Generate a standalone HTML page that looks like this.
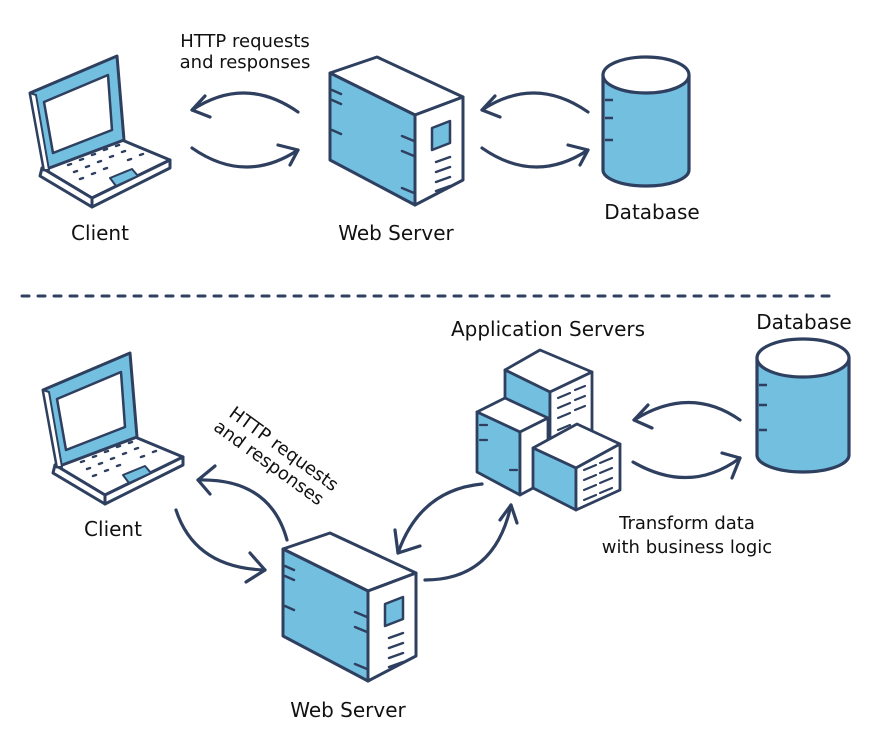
<!DOCTYPE html>
<html><head><meta charset="utf-8"><style>
html,body{margin:0;padding:0;background:#fff;}
svg{display:block;}
text{font-family:"DejaVu Sans","Liberation Sans",sans-serif;fill:#111;}
</style></head><body>
<svg width="875" height="732" viewBox="0 0 875 732" xmlns="http://www.w3.org/2000/svg">
<defs>
<g id="laptop" stroke="#2e3f5f" stroke-width="3" stroke-linejoin="round" stroke-linecap="round">
  <polygon points="42,168 122,140 170,160 92,198" fill="#fff"/>
  <polygon points="92,198 170,160 170,168 92,207" fill="#fff"/>
  <polygon points="42,168 92,198 92,207 40,176" fill="#fff"/>
  <polygon points="30,93 117,56 124,140 44,170" fill="#72bfe0"/>
  <polygon points="44,102 108,75 112,130 53,153" fill="#fff" stroke-width="2.5"/>
  <polygon points="30,93 36,95 49,170 44,170" fill="#fff" stroke-width="2"/>
  <polygon points="110,178 132,169 138,176 116,186" fill="#72bfe0" stroke-width="2"/>
  <g stroke-width="2.5">
    <path d="M68,165l3,-1 M80,160l3,-1 M92,155l3,-1 M104,150l3,-1 M116,146l3,-1"/>
    <path d="M74,172l3,-1 M86,167l3,-1 M98,162l3,-1 M110,157l3,-1 M122,152l3,-1"/>
    <path d="M80,179l3,-1 M92,174l3,-1 M104,169l3,-1 M128,160l3,-1 M140,155l3,-1"/>
  </g>
</g>
<g id="server" stroke="#2e3f5f" stroke-width="3" stroke-linejoin="round" stroke-linecap="round">
  <polygon points="330,73 377,57 463,97 415,115" fill="#fff"/>
  <polygon points="330,73 415,115 415,205 330,160" fill="#72bfe0"/>
  <polygon points="415,115 463,97 463,180 415,205" fill="#fff"/>
  <polygon points="432,128 450,121 450,143 432,150" fill="#72bfe0" stroke-width="2.5"/>
  <path d="M436,162l14,-5 M436,172l14,-5 M436,182l14,-5 M436,191l14,-5" stroke-width="2.5"/>
  <path d="M332,90l9,4 M332,100l9,4 M332,130l9,4 M402,136l12,5 M402,151l12,5 M402,188l12,5" stroke-width="2.5"/>
</g>
<marker id="ah" viewBox="0 0 12 12" refX="9" refY="6" markerWidth="5" markerHeight="5" orient="auto" markerUnits="userSpaceOnUse">
</marker>
</defs>

<g fill="none" stroke="#2e3f5f" stroke-width="3.2" stroke-linecap="round" stroke-linejoin="round">
  <!-- top arrows -->
  <path d="M298,112 Q245,75 192,110"/><path d="M205,96 L192,110 L210,117"/>
  <path d="M192,148 Q245,185 298,150"/><path d="M278,145 L298,150 L290,165"/>
  <path d="M588,112 Q535,75 482,110"/><path d="M495,96 L482,110 L500,117"/>
  <path d="M482,148 Q535,185 588,150"/><path d="M568,145 L588,150 L580,165"/>
  <!-- bottom arrows -->
  <path d="M287,540 Q270,478 198,480"/><path d="M215,466 L198,480 L210,494"/>
  <path d="M176,510 Q195,568 265,570"/><path d="M250,553 L265,570 L246,582"/>
  <path d="M482,484 Q420,490 398,553"/><path d="M395,530 L398,553 L420,546"/>
  <path d="M425,580 Q495,580 511,505"/><path d="M500,520 L511,505 L517,523"/>
  <path d="M740,420 Q690,385 634,420"/><path d="M648,405 L634,420 L652,428"/>
  <path d="M633,462 Q690,495 740,458"/><path d="M722,453 L740,458 L732,478"/>
  <!-- dashed line -->
  <path d="M22,296 L835,296" stroke-dasharray="7,9" stroke-width="3"/>
</g>

<use href="#laptop"/>
<use href="#laptop" transform="translate(13,297)"/>
<use href="#server"/>
<use href="#server" transform="translate(-47,476)"/>

<!-- databases -->
<g stroke="#2e3f5f" stroke-width="3.2">
  <path d="M603,75 L603,170 A43,16 0 0 0 689,170 L689,75" fill="#72bfe0"/>
  <ellipse cx="646" cy="75" rx="43" ry="18" fill="#fff"/>
  <path d="M605,100h8 M605,118h8 M605,140h8" stroke-width="2.5"/>
  <path d="M757,358 L757,455 A46,17 0 0 0 849,455 L849,358" fill="#72bfe0"/>
  <ellipse cx="803" cy="358" rx="46" ry="19" fill="#fff"/>
  <path d="M759,385h8 M759,405h8 M759,430h8" stroke-width="2.5"/>
</g>

<!-- app servers cubes -->
<g stroke="#2e3f5f" stroke-width="2.8" stroke-linejoin="round" stroke-linecap="round">
  <g>
    <polygon points="505,370 540,350 592,372 550,392" fill="#fff"/>
    <polygon points="505,370 550,392 550,452 505,430" fill="#72bfe0"/>
    <polygon points="550,392 592,372 592,430 550,452" fill="#fff"/>
    <path d="M558,398l12,-5 M575,390l10,-4 M558,408l12,-5 M575,400l10,-4 M558,418l12,-5 M575,410l10,-4 M558,430l12,-5" stroke-width="2.2"/>
  </g>
  <g>
    <polygon points="477,412 505,398 548,418 520,432" fill="#fff"/>
    <polygon points="477,412 520,432 520,495 477,472" fill="#72bfe0"/>
    <polygon points="520,432 548,418 548,480 520,495" fill="#fff"/>
    <path d="M480,425h7 M480,440h7 M510,470h7" stroke-width="2.2"/>
  </g>
  <g>
    <polygon points="533,448 577,424 620,444 576,468" fill="#fff"/>
    <polygon points="533,448 576,468 576,510 533,488" fill="#72bfe0"/>
    <polygon points="576,468 620,444 620,490 576,510" fill="#fff"/>
    <path d="M584,470l12,-5 M600,463l12,-5 M584,480l12,-5 M600,473l12,-5 M584,490l12,-5 M600,483l12,-5 M584,500l12,-5 M600,493l12,-5" stroke-width="2.2"/>
  </g>
</g>

<!-- labels -->
<g font-size="18">
  <text x="245" y="47" text-anchor="middle">HTTP requests</text>
  <text x="245" y="68" text-anchor="middle">and responses</text>
  <text x="100" y="240" text-anchor="middle" font-size="20">Client</text>
  <text x="396" y="240" text-anchor="middle" font-size="20">Web Server</text>
  <text x="652" y="219" text-anchor="middle" font-size="20">Database</text>
  <text x="548" y="336" text-anchor="middle" font-size="20">Application Servers</text>
  <text x="804" y="329" text-anchor="middle" font-size="20">Database</text>
  <text x="113" y="536" text-anchor="middle" font-size="20">Client</text>
  <text x="348" y="717" text-anchor="middle" font-size="20">Web Server</text>
  <text x="687" y="529" text-anchor="middle">Transform data</text>
  <text x="687" y="553" text-anchor="middle">with business logic</text>
  <g transform="translate(278,457) rotate(36)">
    <text x="0" y="-4" text-anchor="middle">HTTP requests</text>
    <text x="-4" y="16" text-anchor="middle">and responses</text>
  </g>
</g>
</svg>
</body></html>
